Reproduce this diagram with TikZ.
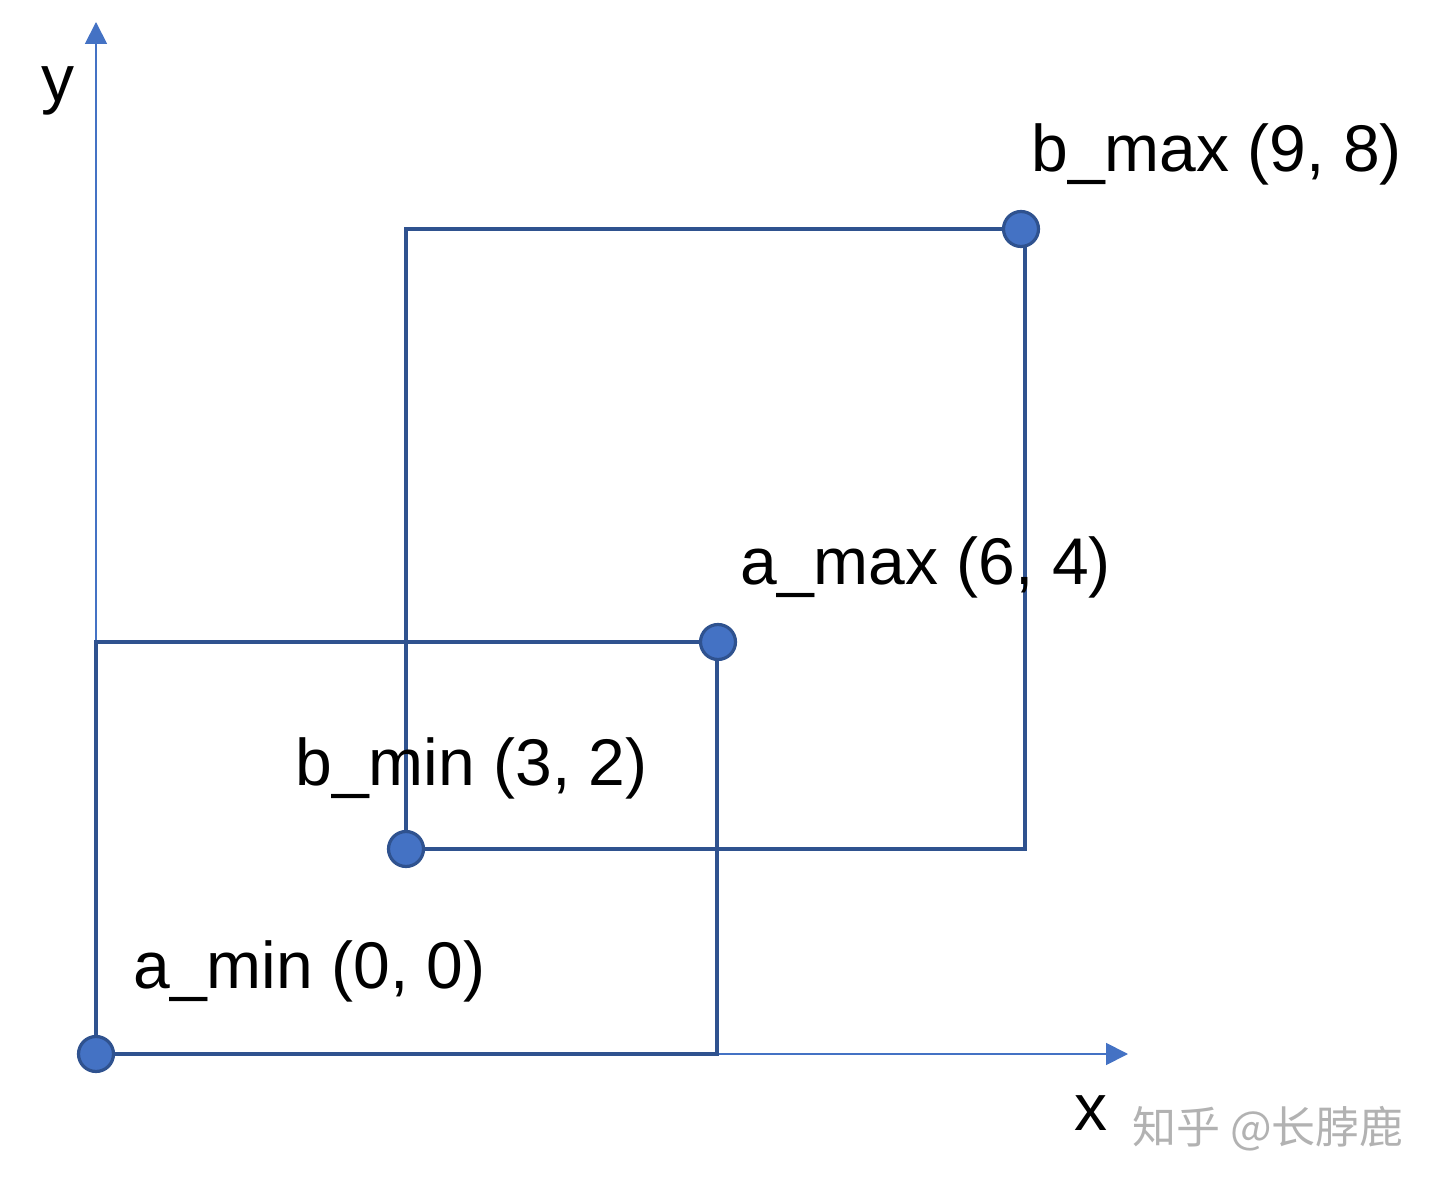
\documentclass[tikz,border=0pt]{standalone}
\usepackage{fontspec}
\setmainfont{Liberation Sans}
\newfontfamily\cjk{Noto Sans CJK SC}
\usetikzlibrary{arrows.meta}
\definecolor{axisblue}{HTML}{4472C4}
\definecolor{edgeblue}{HTML}{2F528F}
\definecolor{dotblue}{HTML}{4472C4}
\tikzset{
  axisline/.style={draw=axisblue, line width=0.9pt, -{Triangle[length=11pt,width=11pt]}},
  boxline/.style={draw=edgeblue, line width=1.7pt},
  dotnode/.style={circle, fill=dotblue, draw=edgeblue, line width=1.6pt, minimum size=17.5pt, inner sep=0pt},
  lbl/.style={anchor=base west, inner sep=0pt, font=\fontsize{33}{36}\selectfont, text=black},
  wmark/.style={anchor=base west, inner sep=0pt, font=\cjk\fontsize{22}{24}\selectfont, text=black!30}
}
\begin{document}
\begin{tikzpicture}[x=0.5pt, y=-0.5pt]
\useasboundingbox (0,0) rectangle (1440,1186);
\coordinate (origin) at (96,1054);
\coordinate (xend) at (1128,1054);
\coordinate (yend) at (96,22);
\coordinate (acorner) at (717,642);
\coordinate (bcorner) at (1025,229);
\coordinate (bstart) at (406,849);
% axes
\draw[axisline] (origin) -- (xend);
\draw[axisline] (origin) -- (yend);
% rectangles
\draw[boxline] (origin) rectangle (acorner);
\draw[boxline] (bstart) rectangle (bcorner);
% dots
\node[dotnode] (amin) at (origin) {};
\node[dotnode] (amax) at (718,642) {};
\node[dotnode] (bmin) at (bstart) {};
\node[dotnode] (bmax) at (1021,229) {};
% labels
\node[lbl] (lbmax) at (1031,172) {b\_max (9, 8)};
\node[lbl] (lamax) at (740,585) {a\_max (6, 4)};
\node[lbl] (lbmin) at (295,785) {b\_min (3, 2)};
\node[lbl] (lamin) at (133,988) {a\_min (0, 0)};
\node[lbl] (ylbl) at (41,102) {y};
\node[lbl] (xlbl) at (1074,1130) {x};
\node[wmark] (wm) at (1132,1143) {知乎 @长脖鹿};
\end{tikzpicture}
\end{document}
